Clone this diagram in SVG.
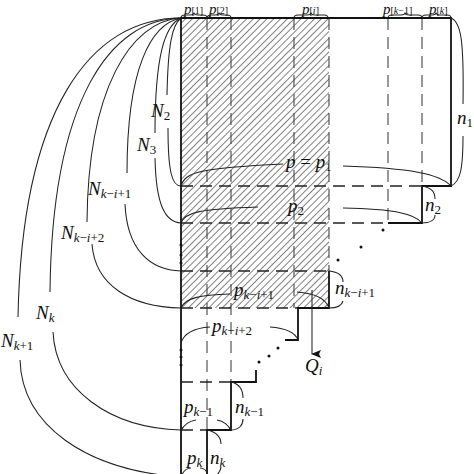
<svg xmlns="http://www.w3.org/2000/svg" width="474" height="474" viewBox="0 0 474 474">
<defs>
<pattern id="hatch" patternUnits="userSpaceOnUse" width="4.8" height="10" patternTransform="rotate(45)">
<line x1="0" y1="0" x2="0" y2="10" stroke="#1a1a1a" stroke-width="1.1"/>
</pattern>
<marker id="arr" markerWidth="8" markerHeight="10" refX="4" refY="9" orient="auto" markerUnits="userSpaceOnUse" viewBox="0 0 8 10">
<path d="M4,10 L0,0 L4,2 L8,0 Z" fill="#111"/>
</marker>
<style>
.s{stroke:#111;stroke-width:1.8;fill:none}
.d{stroke:#222;stroke-width:1.5;fill:none;stroke-dasharray:12 7}
.dv{stroke:#444;stroke-width:1.1;fill:none;stroke-dasharray:12 7}
.c{stroke:#222;stroke-width:1.05;fill:none}
.t{font-family:"Liberation Serif","DejaVu Serif",serif;font-style:italic;font-size:19px;fill:#111}
.tp{font-size:15px}
.sb{font-size:13px}
.sb2{font-size:10px}
.u{font-style:normal}
.dot{fill:#111}
</style>
</defs>
<rect x="181" y="18" width="148" height="290" fill="url(#hatch)"/>
<g id="connectors">
<path class="dv" d="M207,18 V430"/>
<path class="dv" d="M231,18 V382"/>
<path class="dv" d="M294,18 V308"/>
<path class="dv" d="M329,18 V271"/>
<path class="dv" d="M388,18 V223"/>
<path class="dv" d="M422,18 V186"/>
<path class="d" d="M181,186 H422"/>
<path class="d" d="M181,223 H388"/>
<path class="d" d="M181,271 H329"/>
<path class="d" d="M181,308 H298"/>
<path class="d" d="M181,382 H231"/>
<path class="d" d="M181,430 H207"/>
<path class="s" d="M181,474 V18 H451 V186 H422 V223 H388"/>
<path class="s" d="M329,271 V308 H298 V340 H285"/>
<path class="s" d="M256,370 V382 H231 V430 H207 V474"/>
<path class="c" d="M181,18 Q181,15 185,15 L190,15 Q194,15 194,12.5 Q194,15 198,15 L203,15 Q207,15 207,18"/>
<path class="c" d="M207,18 Q207,15 211,15 L215,15 Q219,15 219,12.5 Q219,15 223,15 L227,15 Q231,15 231,18"/>
<path class="c" d="M294,18 Q294,15 298,15 L307,15 Q311,15 311,12.5 Q311,15 315,15 L324,15 Q328,15 328,18"/>
<path class="c" d="M388,18 Q388,15 392,15 L401,15 Q405,15 405,12.5 Q405,15 409,15 L418,15 Q422,15 422,18"/>
<path class="c" d="M422,18 Q422,15 426,15 L432,15 Q436,15 436,12.5 Q436,15 440,15 L447,15 Q451,15 451,18"/>
<path class="c" d="M451,18 C461,22 464,40 463,104"/>
<path class="c" d="M463,136 C463,170 460,182 451,186"/>
<path class="c" d="M422,186 C432,188 435,192 435,199"/>
<path class="c" d="M435,215 C435,220 430,223 422,223"/>
<path class="c" d="M329,271 C339,272 343,276 343,282"/>
<path class="c" d="M343,301 C342,305 338,308 329,308"/>
<path class="c" d="M231,382 C240,384 243,390 243,398"/>
<path class="c" d="M243,419 C243,425 239,430 231,430"/>
<path class="c" d="M207,430 C216,432 221,437 221,444"/>
<path class="c" d="M221,467 C221,470 219,473 216,476"/>
<path class="c" d="M181,186 C185,172 200,168 283,164"/>
<path class="c" d="M343,166 C410,168 440,174 451,186"/>
<path class="c" d="M181,223 C185,212 200,209 258,207"/>
<path class="c" d="M343,208 C395,209 415,214 422,223"/>
<path class="c" d="M181,308 C185,298 200,295 230,294"/>
<path class="c" d="M297,292 C312,293 325,297 329,308"/>
<path class="c" d="M181,343 C184,333 195,328 210,327"/>
<path class="c" d="M270,327 C285,328 295,332 298,340"/>
<path class="c" d="M181,431 C184,424 190,421 196,420"/>
<path class="c" d="M217,420 C223,421 229,425 231,431"/>
<path class="c" d="M181,476 C184,470 188,468 191,468"/>
<path class="c" d="M200,468 C204,468 207,471 208,476"/>
<path class="c" d="M181,18 C172,25 168,45 167,95"/>
<path class="c" d="M168,128 C168,172 172,186 181,186"/>
<path class="c" d="M181,18 C165,25 155,55 155,133"/>
<path class="c" d="M155,158 C156,205 165,222 181,223"/>
<path class="c" d="M181,18 C150,24 127,70 127,173"/>
<path class="c" d="M125,204 C127,250 150,270 181,271"/>
<path class="c" d="M181,18 C130,21 88,90 87,222"/>
<path class="c" d="M92,244 C95,285 130,307 181,308"/>
<path class="c" d="M181,18 C110,19 52,100 50,292"/>
<path class="c" d="M53,332 C56,390 110,428 181,430"/>
<path class="c" d="M181,18 C90,18 22,110 18,317"/>
<path class="c" d="M20,360 C22,425 85,470 181,477"/>
<path class="c" d="M312,290 V354" stroke-width="1.1" marker-end="url(#arr)"/>
</g>
<g id="dots">
<circle class="dot" cx="181" cy="245" r="1.5"/>
<circle class="dot" cx="181" cy="255" r="1.5"/>
<circle class="dot" cx="181" cy="263" r="1.5"/>
<circle class="dot" cx="181" cy="350" r="1.5"/>
<circle class="dot" cx="181" cy="357" r="1.5"/>
<circle class="dot" cx="181" cy="365" r="1.5"/>
<circle class="dot" cx="383" cy="230" r="1.5"/>
<circle class="dot" cx="361" cy="247" r="1.5"/>
<circle class="dot" cx="338" cy="260" r="1.5"/>
<circle class="dot" cx="259" cy="362" r="1.5"/>
<circle class="dot" cx="269" cy="356" r="1.5"/>
<circle class="dot" cx="278" cy="348" r="1.5"/>
</g>
<g id="labels">
<text class="t tp" x="184" y="14">p<tspan class="sb2 u" dy="0">[1]</tspan></text>
<text class="t tp" x="209" y="14">p<tspan class="sb2 u" dy="0">[2]</tspan></text>
<text class="t tp" x="302" y="14">p<tspan class="sb2 u">[</tspan><tspan class="sb2">i</tspan><tspan class="sb2 u">]</tspan></text>
<text class="t tp" x="383" y="14">p<tspan class="sb2 u">[</tspan><tspan class="sb2">k</tspan><tspan class="sb2 u">−1]</tspan></text>
<text class="t tp" x="429" y="14">p<tspan class="sb2 u">[</tspan><tspan class="sb2">k</tspan><tspan class="sb2 u">]</tspan></text>
<text class="t" x="457" y="124">n<tspan class="sb u" dy="3">1</tspan></text>
<text class="t" x="286" y="168">p <tspan class="u">=</tspan> p<tspan class="sb u" dy="3">1</tspan></text>
<text class="t" x="288" y="212">p<tspan class="sb u" dy="3">2</tspan></text>
<text class="t" x="425" y="211">n<tspan class="sb u" dy="3">2</tspan></text>
<text class="t" x="234" y="296">p<tspan class="sb" dy="3">k</tspan><tspan class="sb u">−</tspan><tspan class="sb">i</tspan><tspan class="sb u">+1</tspan></text>
<text class="t" x="335" y="294">n<tspan class="sb" dy="3">k</tspan><tspan class="sb u">−</tspan><tspan class="sb">i</tspan><tspan class="sb u">+1</tspan></text>
<text class="t" x="212" y="332">p<tspan class="sb" dy="3">k</tspan><tspan class="sb u">−</tspan><tspan class="sb">i</tspan><tspan class="sb u">+2</tspan></text>
<text class="t" x="305" y="372">Q<tspan class="sb" dy="3">i</tspan></text>
<text class="t" x="184" y="413">p<tspan class="sb" dy="3">k</tspan><tspan class="sb u">−1</tspan></text>
<text class="t" x="235" y="413">n<tspan class="sb" dy="3">k</tspan><tspan class="sb u">−1</tspan></text>
<text class="t" x="187" y="464">p<tspan class="sb" dy="3">k</tspan></text>
<text class="t" x="210" y="464">n<tspan class="sb" dy="3">k</tspan></text>
<text class="t" x="151" y="117">N<tspan class="sb u" dy="3">2</tspan></text>
<text class="t" x="137" y="151">N<tspan class="sb u" dy="3">3</tspan></text>
<text class="t" x="88" y="195">N<tspan class="sb" dy="3">k</tspan><tspan class="sb u">−</tspan><tspan class="sb">i</tspan><tspan class="sb u">+1</tspan></text>
<text class="t" x="61" y="239">N<tspan class="sb" dy="3">k</tspan><tspan class="sb u">−</tspan><tspan class="sb">i</tspan><tspan class="sb u">+2</tspan></text>
<text class="t" x="36" y="319">N<tspan class="sb" dy="3">k</tspan></text>
<text class="t" x="1" y="347">N<tspan class="sb" dy="3">k</tspan><tspan class="sb u">+1</tspan></text>
</g>
</svg>
